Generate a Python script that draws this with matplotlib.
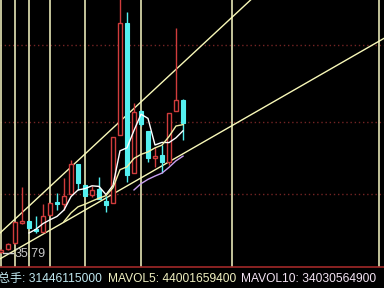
import matplotlib
matplotlib.use("Agg")
import matplotlib.pyplot as plt
import numpy as np
import pandas as pd

# ---- data ----
opens  = [35.84, 36.14, 36.74, 38.74, 38.94, 38.14, 37.84, 39.54, 40.84, 40.64,
          41.64, 44.64, 42.54, 41.54, 42.14, 40.94, 40.74, 47.54, 58.74, 43.74,
          49.94, 47.94, 45.24, 45.54, 44.84, 49.94, 51.04]
closes = [36.04, 36.64, 38.84, 38.94, 38.24, 37.94, 39.44, 40.74, 40.64, 41.44,
          44.64, 42.74, 41.44, 42.04, 41.14, 40.54, 47.34, 58.74, 43.54, 49.84,
          48.64, 45.24, 45.44, 44.84, 49.74, 51.04, 48.74]
highs  = [36.14, 36.74, 38.84, 42.34, 38.94, 39.44, 40.64, 40.74, 41.74, 43.24,
          45.04, 44.64, 42.54, 42.44, 43.34, 41.44, 47.34, 62.04, 59.84, 50.74,
          50.04, 47.94, 46.34, 46.54, 49.74, 58.24, 51.14]
lows   = [35.79, 36.04, 36.69, 38.64, 38.24, 37.74, 37.84, 39.54, 40.04, 40.04,
          41.64, 42.04, 41.44, 41.34, 41.14, 39.84, 40.74, 47.54, 42.84, 43.74,
          48.44, 44.84, 44.34, 43.74, 44.54, 49.94, 47.04]

fib_zones = [0, 2, 4, 7, 12, 20, 33, 54]          # Fibonacci time zones (bar index)
grid_prices = [56.54, 48.84, 41.64]
trend_a = [(0, 37.83), (35.5, 60.94)]
trend_b = [(0, 35.21), (54.7, 57.20)]
ma_periods = [5, 10, 20]

total_vol = "31446115000"
mavol5 = "44001659400"
mavol10 = "34030564900"

# ---- figure ----
W, H = 384, 288
fig = plt.figure(figsize=(W / 100, H / 100), dpi=100, facecolor="black")
ax = fig.add_axes([0, 21 / H, 1, 267 / H], facecolor="black")
ax.set_xlim(-1 / 7, 383 / 7)
ax.set_ylim(61.04 - 26.7, 61.04)
for s in ["top", "left", "right"]:
    ax.spines[s].set_visible(False)
ax.spines["bottom"].set_color("#a02828")
ax.spines["bottom"].set_linewidth(1.2)
ax.set_xticks([])
ax.set_yticks([])

# grid lines
for gp in grid_prices:
    ax.axhline(gp, color="#742424", lw=1.0, ls=(0, (1, 2)), zorder=1)

# Fibonacci vertical lines
for fz in fib_zones:
    ax.axvline(fz, color="#f8f8c4", lw=1.1, zorder=2)

# trend lines
for tl in (trend_a, trend_b):
    ax.axline(tl[0], tl[1], color="#f8f8b8", lw=1.0, zorder=3)

# candles
red = "#d03c3c"
cyan = "#54f0f0"
bw = 0.7
x = np.arange(len(opens))
for i in x:
    o, c, h, l = opens[i], closes[i], highs[i], lows[i]
    if c >= o:
        top, bot = c, o
        ax.vlines(i, top, h, color=red, lw=1.0, zorder=4)
        ax.vlines(i, l, bot, color=red, lw=1.0, zorder=4)
        ax.add_patch(plt.Rectangle((i - bw / 2, bot), bw, max(top - bot, 0.05),
                                   facecolor="black", edgecolor=red, lw=1.0, zorder=5))
    else:
        top, bot = o, c
        ax.vlines(i, l, h, color=cyan, lw=1.0, zorder=4)
        ax.add_patch(plt.Rectangle((i - bw / 2, bot), bw, max(top - bot, 0.05),
                                   facecolor=cyan, edgecolor=cyan, lw=0.8, zorder=5))

# moving averages
cs = pd.Series(closes)
ma_colors = ["#ffffff", "#f0f0a8", "#c8a0f0"]
for p, col in zip(ma_periods, ma_colors):
    ax.plot(x, cs.rolling(p).mean(), color=col, lw=1.0, zorder=6)

# lowest price marker
imin = int(np.argmin(lows))
lo = lows[imin]
ax.plot([imin + 0.3, imin + 1.7], [lo, lo], color="#d0d0d0", lw=1.0, zorder=7)
ax.text(imin + 2.0, lo - 0.15, f"{lo:.2f}", color="#c8c8c8", fontsize=9.0,
        family=["Liberation Sans", "DejaVu Sans"], va="center", ha="left", zorder=7)

# bottom info text
fam = ["Liberation Sans", "Noto Sans CJK SC", "DejaVu Sans"]
yb = 6 / H
fig.text(-2 / W, yb, f"总手: {total_vol}", color="#c0e8f0", fontsize=8.64,
         family=fam, va="baseline", ha="left")
fig.text(108 / W, yb, f"MAVOL5: {mavol5}", color="#f0f0c0", fontsize=8.64,
         family=fam, va="baseline", ha="left")
fig.text(241 / W, yb, f"MAVOL10: {mavol10}", color="#f4e4f4", fontsize=8.64,
         family=fam, va="baseline", ha="left")

fig.savefig("out.png", dpi=100, facecolor="black")
